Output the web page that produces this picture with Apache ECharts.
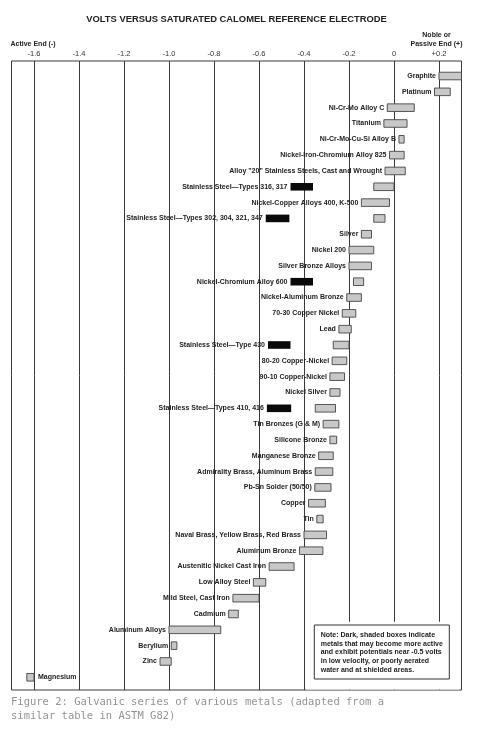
<!DOCTYPE html>
<html>
<head>
<meta charset="utf-8">
<script src="https://cdn.jsdelivr.net/npm/echarts@6/dist/echarts.min.js"></script>
<style>
html,body{margin:0;padding:0;background:#fff;}
#chart{width:480px;height:731px;}
</style>
</head>
<body>
<div id="chart"></div>
<script>
// ---- data (volts vs. saturated calomel reference electrode) ----
const metals = [
  'Graphite', 'Platinum', 'Ni-Cr-Mo Alloy C', 'Titanium', 'Ni-Cr-Mo-Cu-Si Alloy B',
  'Nickel-Iron-Chromium Alloy 825', 'Alloy "20" Stainless Steels, Cast and Wrought',
  'Stainless Steel\u2014Types 316, 317', 'Nickel-Copper Alloys 400, K-500',
  'Stainless Steel\u2014Types 302, 304, 321, 347', 'Silver', 'Nickel 200', 'Silver Bronze Alloys',
  'Nickel-Chromium Alloy 600', 'Nickel-Aluminum Bronze', '70-30 Copper Nickel', 'Lead',
  'Stainless Steel\u2014Type 430', '80-20 Copper-Nickel', '90-10 Copper-Nickel', 'Nickel Silver',
  'Stainless Steel\u2014Types 410, 416', 'Tin Bronzes (G & M)', 'Silicone Bronze', 'Manganese Bronze',
  'Admirality Brass, Aluminum Brass', 'Pb-Sn Solder (50/50)', 'Copper', 'Tin',
  'Naval Brass, Yellow Brass, Red Brass', 'Aluminum Bronze', 'Austenitic Nickel Cast Iron',
  'Low Alloy Steel', 'Mild Steel, Cast Iron', 'Cadmium', 'Aluminum Alloys', 'Berylium', 'Zinc', 'Magnesium'
];
const passiveLow = [
  0.20, 0.18, -0.03, -0.045, 0.022, -0.02, -0.04, -0.09, -0.145, -0.09,
  -0.145, -0.20, -0.20, -0.18, -0.21, -0.23, -0.245, -0.27, -0.275, -0.285,
  -0.285, -0.35, -0.315, -0.285, -0.335, -0.35, -0.352, -0.38, -0.343, -0.40,
  -0.42, -0.555, -0.625, -0.716, -0.735, -1.00, -0.99, -1.04, -1.632
];
const passiveHigh = [
  0.30, 0.25, 0.09, 0.058, 0.045, 0.045, 0.05, 0.0, -0.02, -0.04,
  -0.10, -0.09, -0.10, -0.135, -0.145, -0.17, -0.19, -0.20, -0.21, -0.22,
  -0.24, -0.26, -0.245, -0.255, -0.27, -0.272, -0.28, -0.305, -0.315, -0.30,
  -0.316, -0.444, -0.57, -0.60, -0.692, -0.77, -0.965, -0.99, -1.60
];
// active (dark) ranges, only for the alloys that may become active
const activeLow = [
  null, null, null, null, null, null, null, -0.46, null, -0.57,
  null, null, null, -0.46, null, null, null, -0.56, null, null,
  null, -0.565, null, null, null, null, null, null, null, null,
  null, null, null, null, null, null, null, null, null
];
const activeHigh = [
  null, null, null, null, null, null, null, -0.36, null, -0.465,
  null, null, null, -0.36, null, null, null, -0.46, null, null,
  null, -0.457, null, null, null, null, null, null, null, null,
  null, null, null, null, null, null, null, null, null
];
const tickValues = [-1.6, -1.4, -1.2, -1.0, -0.8, -0.6, -0.4, -0.2, 0, 0.2];
const tickLabels = ['-1.6', '-1.4', '-1.2', '-1.0', '-0.8', '-0.6', '-0.4', '-0.2', '0', '+0.2'];

const FONT = "'Liberation Sans', Arial, sans-serif";
const chart = echarts.init(document.getElementById('chart'), null, {renderer: 'canvas'});

const seriesData = metals.map((m, i) => [i, passiveLow[i], passiveHigh[i]]);

function renderItem(params, api) {
  const i = api.value(0);
  const idx = params.dataIndex;
  const band = api.size([0, 1])[1];
  const h = band * 0.48;
  const a = api.coord([api.value(1), i]);
  const b = api.coord([api.value(2), i]);
  const cy = a[1];
  const children = [{
    type: 'rect',
    shape: {x: a[0], y: cy - h / 2, width: b[0] - a[0], height: h},
    style: {fill: '#c8c8c8', stroke: '#454545', lineWidth: 0.9}
  }];
  let leftX = a[0];
  if (activeLow[idx] != null) {
    const c = api.coord([activeLow[idx], i]);
    const d = api.coord([activeHigh[idx], i]);
    children.push({
      type: 'rect',
      shape: {x: c[0], y: cy - h / 2, width: d[0] - c[0], height: h},
      style: {fill: '#0a0a0a'}
    });
    leftX = c[0];
  }
  const onRight = passiveHigh[idx] <= -1.5;
  children.push({
    type: 'text',
    x: onRight ? b[0] + 4 : leftX - 3,
    y: cy,
    style: {
      text: metals[idx], fontSize: 7, fontWeight: 'bold', fontFamily: FONT,
      fill: '#222', align: onRight ? 'left' : 'right', verticalAlign: 'middle'
    }
  });
  return {type: 'group', children: children};
}

const option = {
  backgroundColor: '#fff',
  animation: false,
  title: {
    text: 'VOLTS VERSUS SATURATED CALOMEL REFERENCE ELECTRODE',
    left: 236.5, top: 15.3, textAlign: 'center', padding: 0,
    textStyle: {fontSize: 9.4, fontWeight: 'bold', fontFamily: FONT, color: '#222'}
  },
  grid: [
    {left: 11.5, right: 18.5, top: 61, bottom: 41, show: true, borderColor: '#3a3a3a', borderWidth: 1, backgroundColor: 'transparent'},
    {left: 11.5, right: 18.5, top: 68.1, bottom: 45.8}
  ],
  xAxis: [
    {
      gridIndex: 0, type: 'value', position: 'top', min: -1.7, max: 0.3, interval: 0.1,
      axisLine: {show: false}, axisTick: {show: false},
      axisLabel: {
        margin: 3, fontSize: 7.5, fontFamily: FONT, color: '#333', showMinLabel: true, showMaxLabel: true,
        formatter: function (v) {
          for (let k = 0; k < tickValues.length; k++) {
            if (Math.abs(v - tickValues[k]) < 1e-6) return tickLabels[k];
          }
          return '';
        }
      },
      splitLine: {show: true, lineStyle: {color: ['rgba(0,0,0,0)', '#3a3a3a'], width: 1}}
    },
    {gridIndex: 1, type: 'value', min: -1.7, max: 0.3, show: false}
  ],
  yAxis: [
    {gridIndex: 0, type: 'value', show: false, splitLine: {show: false}},
    {gridIndex: 1, type: 'category', data: metals, inverse: true, show: false}
  ],
  series: [{
    type: 'custom',
    xAxisIndex: 1, yAxisIndex: 1,
    renderItem: renderItem,
    encode: {x: [1, 2], y: 0},
    data: seriesData,
    clip: false,
    z: 5
  }],
  graphic: [
    {type: 'text', x: 10.5, y: 44, z: 20,
     style: {text: 'Active End (-)', fontSize: 7, fontWeight: 'bold', fontFamily: FONT, fill: '#222', align: 'left', verticalAlign: 'middle'}},
    {type: 'text', x: 436.5, y: 35.3, z: 20,
     style: {text: 'Noble or', fontSize: 7, fontWeight: 'bold', fontFamily: FONT, fill: '#222', align: 'center', verticalAlign: 'middle'}},
    {type: 'text', x: 436.5, y: 44, z: 20,
     style: {text: 'Passive End (+)', fontSize: 7, fontWeight: 'bold', fontFamily: FONT, fill: '#222', align: 'center', verticalAlign: 'middle'}},
    {type: 'rect', z: 30, shape: {x: 305.5, y: 621.8, width: 153.5, height: 67.7}, style: {fill: '#ffffff'}},
    {type: 'rect', z: 31, shape: {x: 314.3, y: 625, width: 135, height: 54}, style: {fill: '#ffffff', stroke: '#333', lineWidth: 1}},
    {type: 'text', z: 32, x: 320.7, y: 630.6,
     style: {text: 'Note: Dark, shaded boxes indicate\nmetals that may become more active\nand exhibit potentials near -0.5 volts\nin low velocity, or poorly aerated\nwater and at shielded areas.',
             fontSize: 7, fontWeight: 'bold', fontFamily: FONT, fill: '#222', lineHeight: 8.7, align: 'left', verticalAlign: 'top'}},
    {type: 'text', z: 20, x: 11, y: 695.7,
     style: {text: 'Figure 2: Galvanic series of various metals (adapted from a\nsimilar table in ASTM G82)',
             fontSize: 10.5, fontFamily: "'DejaVu Sans Mono', monospace", fill: '#939393', lineHeight: 14, align: 'left', verticalAlign: 'top'}}
  ]
};
chart.setOption(option);
</script>
</body>
</html>
